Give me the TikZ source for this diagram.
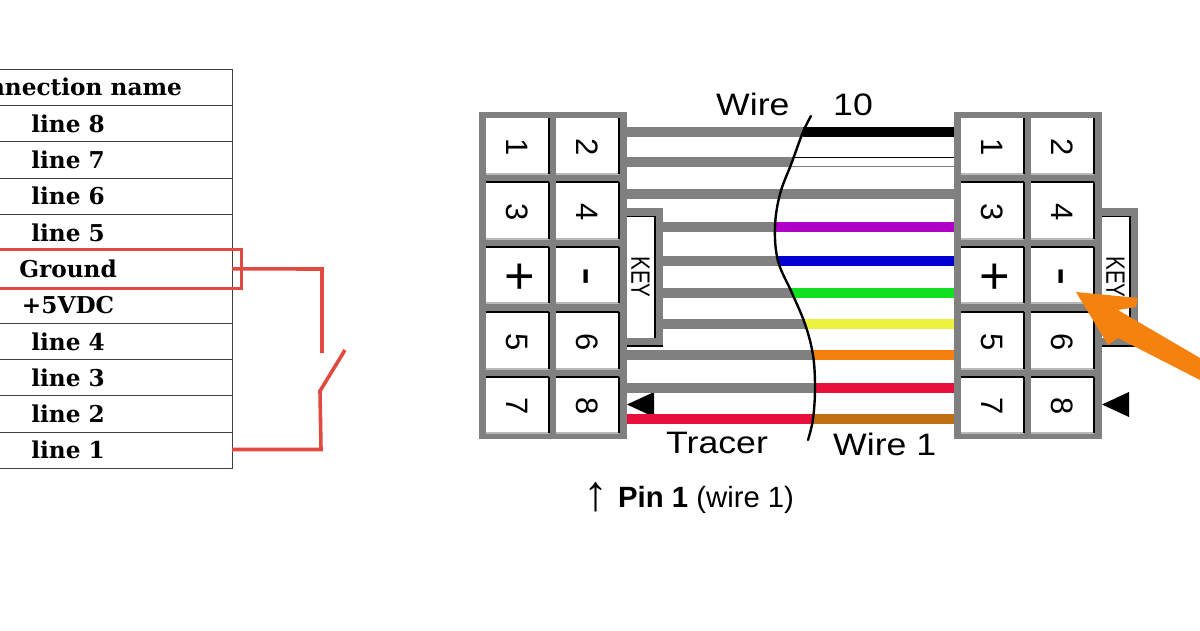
\documentclass[tikz,border=0pt]{standalone}
\usepackage{fontspec}
\setmainfont{Liberation Sans}
\newfontfamily\tblfont{DejaVu Serif}
\definecolor{gridgray}{HTML}{808080}
\definecolor{redline}{HTML}{E04A40}
\definecolor{arroworange}{HTML}{F5820F}
\definecolor{wpurple}{HTML}{B000C8}
\definecolor{wblue}{HTML}{0000D0}
\definecolor{wgreen}{HTML}{10E020}
\definecolor{wyellow}{HTML}{EEF23C}
\definecolor{worange}{HTML}{F58010}
\definecolor{wcrimson}{HTML}{E8103C}
\definecolor{wbrown}{HTML}{C07010}
\tikzset{
  rowcell/.style={draw=black!75,line width=0.9pt,minimum width=328pt,minimum height=36.3pt,inner sep=0pt,outer sep=0pt,font=\tblfont\bfseries\fontsize{23.2}{25}\selectfont},
  redwire/.style={draw=redline,line width=3.6pt},
  wirestyle/.style={line width=10pt},
  digit/.style={font=\fontsize{31}{33}\selectfont,rotate=-90,inner sep=0pt},
  big/.style={font=\fontsize{31}{33}\selectfont,xscale=1.15,inner sep=0pt,anchor=base west},
}
\newcommand{\plussign}{{\fontsize{52}{54}\selectfont +}}
\newcommand{\minussign}{{\fontsize{55}{57}\selectfont -}}
\newcommand{\connector}[1]{%
  \begin{scope}[shift={(#1,0)}]
  \fill[gridgray] (627,208) rectangle (663,346);
  \fill[white] (627,216) rectangle (655,338);
  \draw[black,line width=1.2pt] (627,216.5) -- (655,216.5) -- (655,338);
  \draw[black,line width=1.2pt] (627,346) -- (663,346);
  \node[font=\fontsize{26.5}{28}\selectfont,rotate=-90,inner sep=0pt] at (640.5,277) {\scalebox{0.78}[1]{KEY}};
  \fill[gridgray] (479,112) rectangle (627,439);
  \foreach \y/\h/\a/\b/\bx in {118/56/1/2/587,182/57/3/4/587,247/56/{\plussign}/{\minussign}/580,312/57/5/6/587,377/56/7/8/587}{
    \fill[white] (486,\y) rectangle +(63,\h);
    \fill[white] (556,\y) rectangle +(63,\h);
    \draw[gray!55,line width=1.6pt] (486,\y+\h) -- +(63,0);
    \draw[gray!55,line width=1.6pt] (556,\y+\h) -- +(63,0);
    \draw[black,line width=1.2pt] (549,\y) -- +(0,\h);
    \draw[black,line width=1.2pt] (619,\y) -- +(0,\h);
    \node[digit] at (517.5,\y+\h/2+1.5) {\a};
    \node[digit] at (\bx,\y+\h/2+1.5) {\b};
  }
  \foreach \y in {182,247,312,377}{
    \draw[black,line width=1.2pt] (486,\y) -- +(63,0);
    \draw[black,line width=1.2pt] (556,\y) -- +(63,0);
  }
  \fill[black] (627,404.5) -- (654,392) -- (654,417) -- cycle;
  \end{scope}
}
\begin{document}
\begin{tikzpicture}[x=1pt,y=-1pt]
\useasboundingbox (0,0) rectangle (1200,630);
\clip (0,0) rectangle (1200,630);
\fill[white] (0,0) rectangle (1200,630);

% table
\node[rowcell] (hdr) at (68,87.3) {Connection name};
\node[rowcell] (l8) at (68,123.6) {line 8};
\node[rowcell] (l7) at (68,159.9) {line 7};
\node[rowcell] (l6) at (68,196.2) {line 6};
\node[rowcell] (l5) at (68,232.5) {line 5};
\node[rowcell] (gnd) at (68,268.8) {Ground};
\node[rowcell] (vdc) at (68,305.1) {+5VDC};
\node[rowcell] (l4) at (68,341.4) {line 4};
\node[rowcell] (l3) at (68,377.7) {line 3};
\node[rowcell] (l2) at (68,414.0) {line 2};
\node[rowcell] (l1) at (68,450.3) {line 1};

% highlight and switch
\draw[redline,line width=3pt] (-10,249) rectangle (241,288.5);
\coordinate (swA) at (322,269);
\coordinate (swB) at (322,353);
\coordinate (swC) at (345,350);
\coordinate (swD) at (320,391);
\coordinate (swE) at (321,449.5);
\draw[redwire] (gnd.east) -- (swA) -- (swB);
\draw[redwire] (swC) -- (swD) -- (swE) -- (l1.east |- swE);

% connectors
\connector{0}
\connector{475}

% wires: left gray part
\foreach \y/\x/\xs/\c in {
  132/627/803/black,
  162/627/792/white,
  194/627/780/gridgray,
  227/663/775/wpurple,
  261/663/778/wblue,
  293/663/792/wgreen,
  324/663/805/wyellow,
  355/627/813/worange,
  388/627/815/wcrimson}{
  \draw[wirestyle,gridgray] (\x,\y) -- (\xs,\y);
  \draw[wirestyle,\c] (\xs,\y) -- (954,\y);
}
\draw[black,line width=1pt] (792,157) -- (954,157);
\draw[gridgray,line width=1pt] (792,166.5) -- (954,166.5);
\draw[wirestyle,wcrimson] (627,419) -- (813,419);
\draw[wirestyle,wbrown] (813,419) -- (954,419);

% cut curve
\draw[black,line width=2.4pt,line cap=round] plot[smooth,tension=0.6] coordinates {(811,116) (803,132) (792,162) (780,194) (775,227) (778,261) (792,293) (805,324) (813,355) (815,388) (813,419) (808,440)};

% labels
\node[big] (wire) at (716,115) {Wire};
\node[big] (ten) at (833,115) {10};
\node[big] (tracer) at (666,453) {Tracer};
\node[big] (wone) at (833,455) {Wire 1};
\node[font=\fontsize{50}{52}\selectfont,inner sep=0pt] (pinarrow) at (596,497) {↑};
\node[font=\fontsize{29.3}{31}\selectfont,inner sep=0pt,anchor=base west] (pin) at (618,507) {\textbf{Pin 1} (wire 1)};

% orange arrow
\fill[arroworange] (1076,292) -- (1138,298) -- (1136,307) -- (1118,310) -- (1200,358) -- (1200,380) -- (1118,338) -- (1108,345) -- cycle;
\end{tikzpicture}
\end{document}
